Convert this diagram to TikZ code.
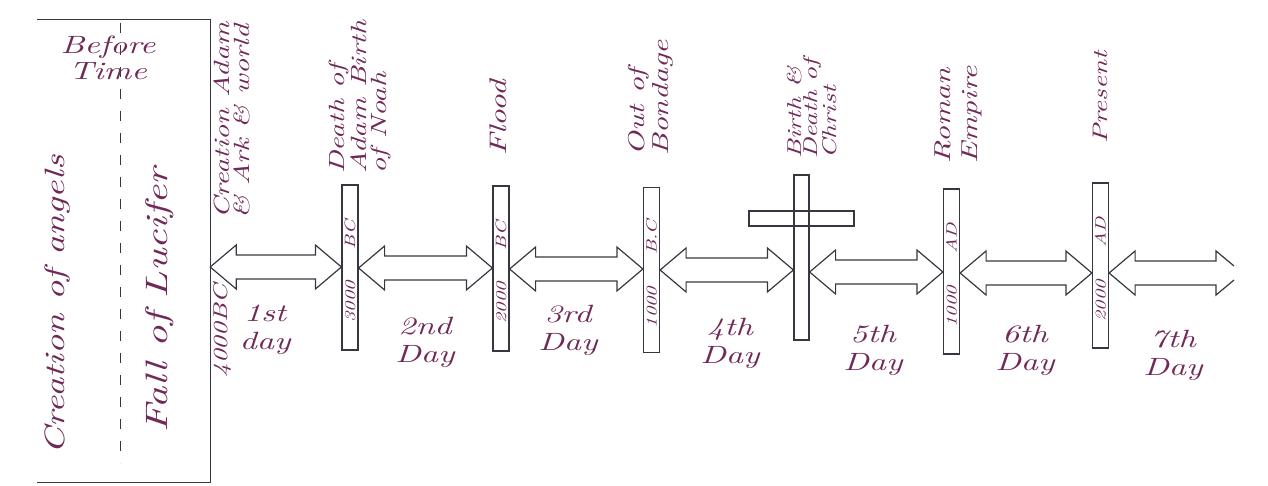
\documentclass[tikz,border=0pt]{standalone}
\usepackage{fontspec}
\usepackage{tikz}
\usetikzlibrary{calc}
\newfontfamily\hand[FakeStretch=1.35]{lmroman10-italic.otf}
\definecolor{ink}{RGB}{112,42,88}
\definecolor{pencil}{RGB}{55,55,65}

% block arrow between two marks, #3 = height of its axis
\newcommand{\dayarrow}[3]{%
\draw[dayshape] let \p1=(#1.east), \p2=(#2.west), \p3=(0,#3) in
 (\x1,\y3) -- (\x1+26,\y3+22) -- (\x1+26,\y3+12) -- (\x2-26,\y3+12) -- (\x2-26,\y3+22)
 -- (\x2,\y3) -- (\x2-26,\y3-22) -- (\x2-26,\y3-12) -- (\x1+26,\y3-12) -- (\x1+26,\y3-22) -- cycle;}
% the last one, with its point left open
\newcommand{\openarrow}[3]{%
\draw[dayshape] let \p1=(#1.east), \p2=(#2), \p3=(0,#3) in
 (\x2-8,\y3+7) -- (\x2-26,\y3+22) -- (\x2-26,\y3+12) -- (\x1+26,\y3+12) -- (\x1+26,\y3+22)
 -- (\x1,\y3) -- (\x1+26,\y3-22) -- (\x1+26,\y3-12) -- (\x2-26,\y3-12) -- (\x2-26,\y3-22) -- (\x2-8,\y3-7);}

\begin{document}
\begin{tikzpicture}[x=1pt, y=1pt,
  dayshape/.style={draw=pencil, line width=1.2pt, line join=miter},
  yearbar/.style={draw=pencil, line width=1.2pt, minimum width=16pt, minimum height=165pt, inner sep=0pt,
    text=ink, font=\hand\fontsize{15}{15}\selectfont},
  hand/.style={text=ink, font=\hand\fontsize{22}{20}\selectfont, align=left, inner sep=1pt},
  uphand/.style={hand, rotate=90, anchor=west},
  daynote/.style={hand, align=center, font=\hand\fontsize{25}{28}\selectfont}]
\useasboundingbox (0,0) rectangle (1268,485);

% before time
\node (eternity) [minimum width=173pt, minimum height=462pt, inner sep=0pt] at (123.5,234) {};
\draw[pencil, line width=1.2pt] (eternity.north west) -- (eternity.north east) -- (eternity.south east) -- (eternity.south west);
\draw[pencil, line width=1pt, dash pattern=on 10pt off 12pt] (120,462) -- (120,22);
\node (before) [hand, align=center, font=\hand\fontsize{25}{26}\selectfont] at (108,427) {Before\\Time};
\node (angels) [hand, rotate=90, font=\hand\fontsize{28}{30}\selectfont] at (57,180) {Creation of angels};
\node (lucifer) [hand, rotate=90, font=\hand\fontsize{31}{30}\selectfont] at (160,185) {Fall of Lucifer};

% the marks
\node (m3000) [yearbar] at (350,217.5) {\rotatebox{90}{3000\hspace{32pt}BC\hspace{8pt}}};
\node (m2000) [yearbar] at (501,216.5) {\rotatebox{90}{2000\hspace{32pt}BC\hspace{8pt}}};
\node (m1000) [yearbar] at (651.5,215) {\rotatebox{90}{1000\hspace{32pt}B.C\hspace{8pt}}};
\node (cross) [yearbar, minimum width=15pt] at (801.5,227.5) {};
\node (crossbar) [yearbar, minimum width=105pt, minimum height=15pt] at (801.5,266.5) {};
\node (ad1000) [yearbar] at (951.5,213.5) {\rotatebox{90}{1000\hspace{32pt}AD\hspace{8pt}}};
\node (ad2000) [yearbar] at (1100.5,219.5) {\rotatebox{90}{2000\hspace{32pt}AD\hspace{8pt}}};
\coordinate (future) at (1242,212);

% events
\node (creation) [uphand] at (232,265) {Creation Adam\\\& Ark \& world};
\node (adam) [uphand] at (360,310) {Death of\\Adam Birth\\of Noah};
\node (flood) [uphand, font=\hand\fontsize{24}{20}\selectfont] at (498,328) {Flood};
\node (bondage) [uphand, font=\hand\fontsize{23}{24}\selectfont] at (651,328) {Out of\\Bondage};
\node (christ) [uphand, font=\hand\fontsize{20}{16}\selectfont] at (812,325) {Birth \&\\Death of\\Christ};
\node (rome) [uphand, font=\hand\fontsize{23}{27}\selectfont] at (958,320) {Roman\\Empire};
\node (present) [uphand, font=\hand\fontsize{21}{20}\selectfont] at (1100,340) {Present};
\node (bc4000) [hand, rotate=90, font=\hand\fontsize{20}{20}\selectfont] at (222,154) {4000BC};

% the days
\dayarrow{eternity}{m3000}{218}
\dayarrow{m3000}{m2000}{217}
\dayarrow{m2000}{m1000}{216}
\dayarrow{m1000}{cross}{215}
\dayarrow{cross}{ad1000}{213}
\dayarrow{ad1000}{ad2000}{212}
\openarrow{ad2000}{future}{212}

\node (day1) [daynote] at (265,155) {1st\\day};
\node (day2) [daynote] at (425,143) {2nd\\Day};
\node (day3) [daynote] at (568,155) {3rd\\Day};
\node (day4) [daynote] at (730,142) {4th\\Day};
\node (day5) [daynote] at (873,135) {5th\\Day};
\node (day6) [daynote] at (1025,135) {6th\\Day};
\node (day7) [daynote] at (1173,130) {7th\\Day};
\end{tikzpicture}
\end{document}
